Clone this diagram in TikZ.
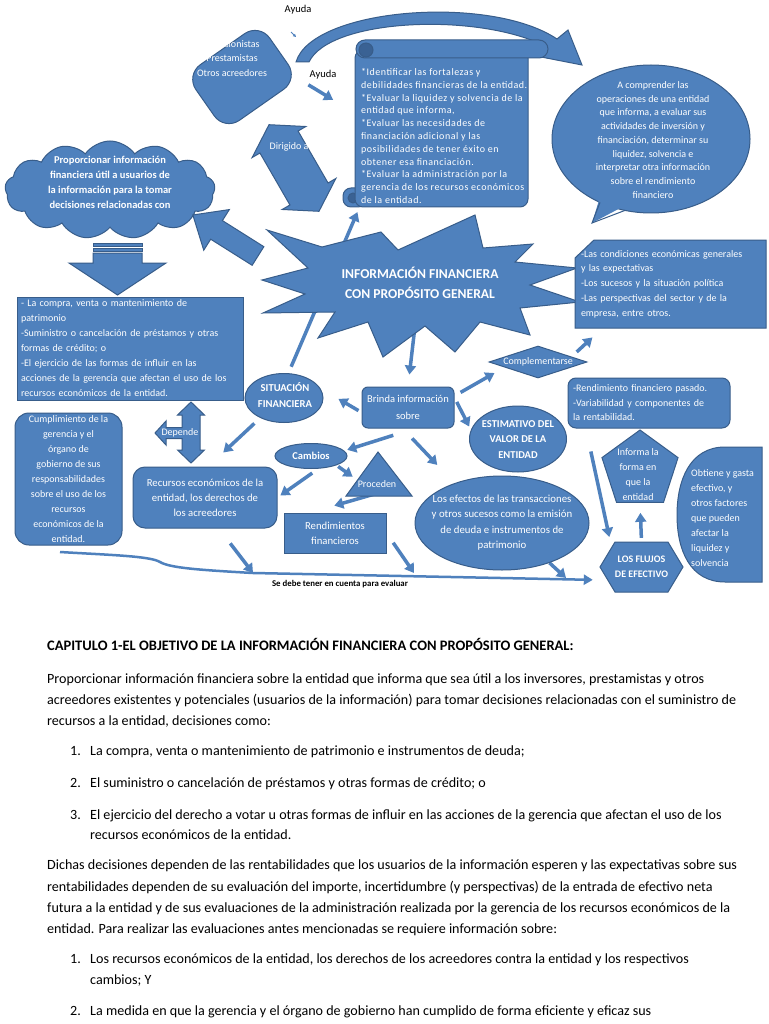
\documentclass[tikz,border=0pt]{standalone}
\usepackage{fontspec}
\setmainfont{Carlito}
\newfontfamily\espaciada[LetterSpace=5]{Carlito}
\usetikzlibrary{shapes.geometric,shapes.symbols,arrows.meta}
\definecolor{azul}{RGB}{79,129,189}
\definecolor{borde}{RGB}{56,93,138}
\definecolor{azulosc}{RGB}{58,98,148}
\pgfdeclarelayer{fondo}
\pgfsetlayers{fondo,main}
\tikzset{
  fig/.style={fill=azul, draw=borde, line width=1pt},
  txt/.style={text=white, inner sep=0pt, font=\fontsize{10}{15}\selectfont},
  negrita/.style={txt, font=\fontsize{10.5}{15.5}\selectfont\bfseries},
  conn/.style={draw=azul, line width=3.5pt, -{Triangle[length=9pt,width=11pt]}},
  cuerpo/.style={anchor=west, inner sep=0pt, text height=10pt, text depth=3pt, font=\fontsize{14.1}{16}\selectfont},
}
\newcommand{\flecha}[6]{%
  \draw[fig, shift={#1}, rotate=#2] (0,#4) -- ({#3-#6},#4) -- ({#3-#6},#5) -- (#3,0)
    -- ({#3-#6},-#5) -- ({#3-#6},-#4) -- (0,-#4) -- cycle;}
\newcommand{\flechados}[6]{%
  \draw[fig, shift={#1}, rotate=#2] (-#3,0) -- ({#6-#3},#5) -- ({#6-#3},#4) -- ({#3-#6},#4)
    -- ({#3-#6},#5) -- (#3,0) -- ({#3-#6},-#5) -- ({#3-#6},-#4) -- ({#6-#3},-#4)
    -- ({#6-#3},-#5) -- cycle;}
\begin{document}
\begin{tikzpicture}[x=1pt,y=-1pt]
\begin{pgfonlayer}{fondo}
\fill[white] (0,0) rectangle (768,1024);
\end{pgfonlayer}
\useasboundingbox (0,0) rectangle (768,1024);

\node[font=\fontsize{10.5}{12}\selectfont] (ayuda1) at (298,10) {Ayuda};
\node[font=\fontsize{10.5}{12}\selectfont] (ayuda2) at (323,75) {Ayuda};
\draw[fig] (296,62) .. controls (312,8) and (490,-6) .. (557,39) -- (568,30) -- (582,65)
  -- (536,56) -- (547,47) .. controls (480,12) and (330,18) .. (309,62) -- cycle;

% usuarios
\node[fig, rounded corners=18, minimum width=90, minimum height=68, rotate=35] (usuariosforma) at (242,77) {};
\node[txt, align=center, font=\fontsize{10}{14.5}\selectfont] (usuarios) at (232,58.5)
  {Inversionistas\\Prestamistas\\Otros acreedores};

% pergamino
\draw[fig, rounded corners=8] (343,188) rectangle (366,207);
\draw[fig, fill=azulosc] (353,198) circle (5);
\draw[fig, rounded corners=8] (355,50) rectangle (528,207);
\draw[fig, rounded corners=9] (356,40) rectangle (548,58);
\draw[fig, fill=azulosc] (366,50) circle (7);
\node[txt, anchor=west, align=left, font=\fontsize{10}{12.8}\espaciada] (evalua) at (361,136)
  {*Identificar las fortalezas y\\debilidades financieras de la entidad.\\*Evaluar la liquidez y solvencia de la\\entidad que informa,\\*Evaluar las necesidades de\\financiación adicional y las\\posibilidades de tener éxito en\\obtener esa financiación.\\*Evaluar la administración por la\\gerencia de los recursos económicos\\de la entidad.};

% globo
\node[fig, ellipse, minimum width=198, minimum height=148] (comprender) at (651,139) {};
\fill[azul] (600,197) -- (592,223) -- (626,205) -- cycle;
\draw[borde, line width=1pt] (600,202.4) -- (592,223) -- (625,210.4);
\node[txt, align=center, font=\fontsize{10}{13.75}\selectfont] (comprendertxt) at (653,140)
  {A comprender las\\operaciones de una entidad\\que informa, a evaluar sus\\actividades de inversión y\\financiación, determinar su\\liquidez, solvencia e\\interpretar otra información\\sobre el rendimiento\\financiero};

% nube
\node[fig, cloud, cloud puffs=13, cloud puff arc=110, cloud ignores aspect, minimum width=210, minimum height=98] (proporcionar) at (110,190) {};
\node[negrita, align=center, font=\fontsize{10.5}{15}\selectfont\bfseries] (proporcionartxt) at (110,182.5)
  {Proporcionar información\\financiera útil a usuarios de\\la información para la tomar\\decisiones relacionadas con};

\draw[fig] (93,243) rectangle (142,246);
\draw[fig] (93,248) rectangle (142,251.5);
\draw[fig] (93,253) -- (142,253) -- (142,263) -- (166,263) -- (117.5,295) -- (69,263) -- (93,263) -- cycle;

\node[fig, txt, minimum width=226, minimum height=103, text width=218, align=left] (decisiones) at (130,348.5)
  {- La compra, venta o mantenimiento de\\patrimonio\\-Suministro o cancelación de préstamos y otras\\formas de crédito; o\\-El ejercicio de las formas de influir en las\\acciones de la gerencia que afectan el uso de los\\recursos económicos de la entidad.};

\flecha{(258,256)}{147.8}{77}{11}{24}{28}
\flechados{(294,168)}{-60}{50}{22}{31}{20}
\node[txt] (dirigido) at (289,147) {Dirigido a};

% estrella
\draw[fig] (262,280) -- (308,268) -- (267,230) -- (322,247) -- (381,232) -- (398,250) -- (475,215)
  -- (483,248) -- (533,244) -- (515,262) -- (577,268) -- (530,285) -- (580,302) -- (520,308)
  -- (530,335) -- (480,322) -- (455,352) -- (425,326) -- (383,357) -- (368,322) -- (318,338)
  -- (335,312) -- (263,313) -- (305,294) -- cycle;
\node[txt, align=center, font=\fontsize{13.6}{20}\selectfont\bfseries] (infofin) at (420,283)
  {INFORMACIÓN FINANCIERA\\CON PROPÓSITO GENERAL};

\draw[fig] (575,258) -- (594,240) -- (766,240) -- (766,328) -- (575,328) -- cycle;
\node[txt, minimum width=191, minimum height=88, text width=179, align=left, font=\fontsize{10}{14.7}\selectfont] (condiciones) at (670.5,284)
  {-Las condiciones económicas generales\\y las expectativas\\-Los sucesos y la situación política\\-Las perspectivas del sector y de la\\empresa, entre otros.};

\node[fig, ellipse, minimum width=78, minimum height=49] (situacion) at (284,398) {};
\node[negrita, align=center, font=\fontsize{10.6}{16}\selectfont\bfseries] (situaciontxt) at (285,395) {SITUACIÓN\\FINANCIERA};
\node[fig, txt, rounded corners=6, minimum width=92, minimum height=41, align=center, font=\fontsize{10.5}{16.5}\selectfont] (brinda) at (408,407.5) {Brinda información\\sobre};
\node[fig, txt, diamond, aspect=3, minimum width=98, minimum height=32] (complementa) at (538,362) {Complementarse};
\node[fig, txt, rounded corners=8, minimum width=162, minimum height=50, text width=152, align=left, font=\fontsize{10}{14.5}\selectfont] (pasado) at (649,403)
  {-Rendimiento financiero pasado.\\-Variabilidad y componentes de\\la rentabilidad.};
\node[fig, ellipse, minimum width=97, minimum height=66] (estimativo) at (518,439) {};
\node[negrita, align=center, font=\fontsize{10.5}{15.5}\selectfont\bfseries] (estimativotxt) at (518,439.5) {ESTIMATIVO DEL\\VALOR DE LA\\ENTIDAD};
\node[fig, ellipse, minimum width=72, minimum height=25] (cambios) at (311,456) {};
\node[negrita] (cambiostxt) at (311,456) {Cambios};
\draw[fig] (378,452) -- (412,496) -- (346,496) -- cycle;
\node[txt] (proceden) at (377,484) {Proceden};
\node[fig, txt, rounded corners=12, minimum width=144, minimum height=61, align=center, font=\fontsize{10.7}{15}\selectfont] (recursos) at (205,497.5)
  {Recursos económicos de la\\entidad, los derechos de\\los acreedores};
\node[fig, txt, minimum width=102, minimum height=40, align=center, font=\fontsize{10.7}{15}\selectfont] (rendimientos) at (335,533) {Rendimientos\\financieros};
\node[fig, ellipse, minimum width=174, minimum height=94] (efectos) at (502,523) {};
\node[txt, align=center, font=\fontsize{10.8}{15.3}\selectfont] (efectostxt) at (502,522.5)
  {Los efectos de las transacciones\\y otros sucesos como la emisión\\de deuda e instrumentos de\\patrimonio};

\draw[fig] (600,567) -- (615,542) -- (668,542) -- (683,567) -- (668,592) -- (615,592) -- cycle;
\node[negrita, minimum width=83, minimum height=50, align=center, font=\fontsize{10}{15}\selectfont\bfseries] (flujos) at (641.5,567) {LOS FLUJOS\\DE EFECTIVO};
\node[fig, regular polygon, regular polygon sides=5, minimum size=80, inner sep=0pt] (informa) at (640,470) {};
\node[txt, align=center] (informatxt) at (638,474.5) {Informa la\\forma en\\que la\\entidad};
\draw[fig] (762,447) -- (725,447) .. controls (690,447) and (677,480) .. (677,515)
  .. controls (677,550) and (690,582) .. (725,582) -- (762,582) -- cycle;
\node[txt, anchor=west, align=left] (obtiene) at (691,518)
  {Obtiene y gasta\\efectivo, y\\otros factores\\que pueden\\afectar la\\liquidez y\\solvencia};

\node[fig, txt, rounded corners=14, minimum width=107, minimum height=132, align=center] (cumplimiento) at (68.5,479)
  {Cumplimiento de la\\gerencia y el\\órgano de\\gobierno de sus\\responsabilidades\\sobre el uso de los\\recursos\\económicos de la\\entidad.};

\draw[fig] (191,402) -- (204.5,415) -- (200,415) -- (200,450) -- (204.5,450) -- (191,463) -- (177.5,450)
  -- (182,450) -- (182,438.5) -- (166,438.5) -- (166,445) -- (155,433) -- (166,421) -- (166,427.5)
  -- (182,427.5) -- (182,415) -- (177.5,415) -- cycle;
\node[txt] (depende) at (180,433) {Depende};

\node[font=\fontsize{8.8}{10}\selectfont\bfseries] (evaluar) at (340,584) {Se debe tener en cuenta para evaluar};

\begin{pgfonlayer}{fondo}
\coordinate (ev0) at (60,552);
\coordinate (ev1) at (253,573);
\coordinate (ev2) at (414,573);
\coordinate (ev3) at (566,578);
\draw[azul, line width=2.5pt, -{Triangle[length=9pt,width=10pt]}, shorten >=7pt] (ev0)
  .. controls (110,555) and (150,556) .. (160,562) .. controls (170,568) and (200,570) .. (ev1)
  -- ([yshift=-13pt]flujos.west);
\draw[conn, shorten <=7pt, shorten >=9pt] (situacion.80) -- (evalua.south west);
\draw[conn, shorten >=12pt] (infofin) -- (brinda.north);
\draw[conn, shorten <=3.5pt, shorten >=21pt] (brinda.186) -- (situacion.15);
\draw[conn, shorten <=7pt, shorten >=11.5pt] (brinda.14) -- (complementa.189);
\draw[conn, shorten <=7pt, shorten >=13.6pt] (complementa.9) -- (condiciones.213);
\draw[conn, shorten <=4.9pt, shorten >=3.7pt] (brinda.12) -- (estimativo.169);
\draw[conn, shorten <=22.6pt, shorten >=3pt] (brinda.288) -- (cambios.9);
\draw[conn, shorten <=13.6pt, shorten >=25pt] (brinda.256) -- (efectos.140);
\draw[conn, shorten <=2pt, shorten >=6pt] (cambios.340) -- (proceden.north west);
\draw[conn, shorten <=22.8pt, shorten >=24.7pt] (proceden.south east) -- (rendimientos.140);
\draw[conn, shorten <=8pt, shorten >=20.5pt] (situacion.220) -- (recursos.84);
\draw[conn, shorten <=7.5pt, shorten >=3.5pt] (cambios.300) -- (recursos.east);
\draw[conn, shorten <=18.8pt] (recursos.294) -- (ev1);
\draw[conn, shorten <=11.8pt] (rendimientos.east) -- (ev2);
\draw[conn] (efectos.320) -- (ev3);
\draw[conn, shorten <=23.5pt, shorten >=5pt] (pasado.202) -- (flujos.141);
\draw[conn, shorten <=4pt, shorten >=10pt] (flujos.north) -- (informa.south);
\draw[conn, shorten <=10.9pt, shorten >=32.6pt] (usuariosforma.south east) -- (evalua.167);
\draw[azul, line width=1pt, -{Triangle[length=3pt,width=3pt]}] ([shift={(-7,14)}]ayuda1.south) -- ++(5,5);
\end{pgfonlayer}

\node[cuerpo, font=\fontsize{14.5}{16}\selectfont\bfseries] (capitulo) at (47,647) {CAPITULO 1-EL OBJETIVO DE LA INFORMACIÓN FINANCIERA CON PROPÓSITO GENERAL:};
\node[cuerpo] (p1) at (47,680) {Proporcionar información financiera sobre la entidad que informa que sea útil a los inversores, prestamistas y otros};
\node[cuerpo] (p2) at (47,701) {acreedores existentes y potenciales (usuarios de la información) para tomar decisiones relacionadas con el suministro de};
\node[cuerpo] (p3) at (47,722) {recursos a la entidad, decisiones como:};
\node[cuerpo] (n1) at (70,752) {1.};
\node[cuerpo] (l1) at (90,752) {La compra, venta o mantenimiento de patrimonio e instrumentos de deuda;};
\node[cuerpo] (n2) at (70,784) {2.};
\node[cuerpo] (l2) at (90,784) {El suministro o cancelación de préstamos y otras formas de crédito; o};
\node[cuerpo] (n3) at (70,816) {3.};
\node[cuerpo] (l3) at (90,816) {El ejercicio del derecho a votar u otras formas de influir en las acciones de la gerencia que afectan el uso de los};
\node[cuerpo] (l3b) at (90,836) {recursos económicos de la entidad.};
\node[cuerpo] (d1) at (47,866) {Dichas decisiones dependen de las rentabilidades que los usuarios de la información esperen y las expectativas sobre sus};
\node[cuerpo] (d2) at (47,888) {rentabilidades dependen de su evaluación del importe, incertidumbre (y perspectivas) de la entrada de efectivo neta};
\node[cuerpo] (d3) at (47,909) {futura a la entidad y de sus evaluaciones de la administración realizada por la gerencia de los recursos económicos de la};
\node[cuerpo] (d4) at (47,930) {entidad. Para realizar las evaluaciones antes mencionadas se requiere información sobre:};
\node[cuerpo] (m1) at (70,960) {1.};
\node[cuerpo] (k1) at (90,960) {Los recursos económicos de la entidad, los derechos de los acreedores contra la entidad y los respectivos};
\node[cuerpo] (k1b) at (90,981) {cambios; Y};
\node[cuerpo] (m2) at (70,1012) {2.};
\node[cuerpo] (k2) at (90,1012) {La medida en que la gerencia y el órgano de gobierno han cumplido de forma eficiente y eficaz sus};
\node[cuerpo] (k2b) at (90,1033) {responsabilidades sobre el uso de los recursos económicos de la entidad.};
\end{tikzpicture}
\end{document}
